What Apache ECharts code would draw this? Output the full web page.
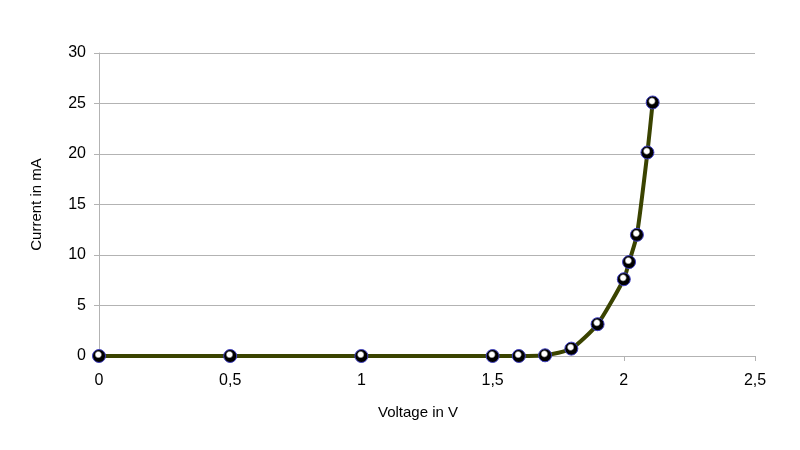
<!DOCTYPE html>
<html>
<head>
<meta charset="utf-8">
<script src="https://cdn.jsdelivr.net/npm/echarts@6/dist/echarts.min.js"></script>
<style>html,body{margin:0;padding:0;background:#fff;}#c{width:800px;height:450px;}</style>
</head>
<body>
<div id="c"></div>
<script>
var voltage = [0, 0.5, 1, 1.5, 1.6, 1.7, 1.8, 1.9, 2.0, 2.02, 2.05, 2.09, 2.11];
var current = [0, 0, 0, 0, 0, 0.07, 0.73, 3.15, 7.6, 9.3, 12.0, 20.15, 25.1];
var xTitle = 'Voltage in V';
var yTitle = 'Current in mA';

var chart = echarts.init(document.getElementById('c'), null, {renderer: 'canvas'});
var font = '"Liberation Sans", Arial, sans-serif';
chart.setOption({
  animation: false,
  backgroundColor: '#fff',
  grid: {left: 99, right: 45, top: 53, bottom: 94, containLabel: false},
  xAxis: {
    type: 'value', min: 0, max: 2.5, interval: 0.5,
    name: xTitle, nameLocation: 'middle', nameGap: 49,
    nameTextStyle: {fontFamily: font, fontSize: 15, color: '#000', padding: [0, 18, 0, 0]},
    axisLine: {show: true, lineStyle: {color: '#b3b3b3', width: 1}},
    axisTick: {show: true, inside: false, length: 5, lineStyle: {color: '#b3b3b3'}},
    splitLine: {show: false},
    axisLabel: {fontFamily: font, fontSize: 16, color: '#000', margin: 17,
      formatter: function (v) { return String(v).replace('.', ','); }}
  },
  yAxis: {
    type: 'value', min: 0, max: 30, interval: 5,
    name: yTitle, nameLocation: 'middle', nameGap: 55, nameRotate: 90,
    nameTextStyle: {fontFamily: font, fontSize: 15, color: '#000'},
    axisLine: {show: true, lineStyle: {color: '#b3b3b3', width: 1}},
    axisTick: {show: true, inside: false, length: 5, lineStyle: {color: '#b3b3b3'}},
    splitLine: {show: true, lineStyle: {color: '#b3b3b3', width: 1}},
    axisLabel: {fontFamily: font, fontSize: 16, color: '#000', margin: 13}
  },
  series: [{
    type: 'line',
    data: voltage.map(function (v, i) { return [v, current[i]]; }),
    smooth: 0.2,
    lineStyle: {color: '#3a4300', width: 4},
    symbol: 'circle',
    symbolSize: 13,
    itemStyle: {
      color: {type: 'radial', x: 0.45, y: 0.4, r: 0.55,
        colorStops: [{offset: 0, color: '#ffffff'}, {offset: 0.3, color: '#ffffff'},
                     {offset: 0.5, color: '#000000'}, {offset: 1, color: '#000000'}]},
      borderColor: '#4040c0', borderWidth: 1
    },
    z: 3
  }]
});
</script>
</body>
</html>
